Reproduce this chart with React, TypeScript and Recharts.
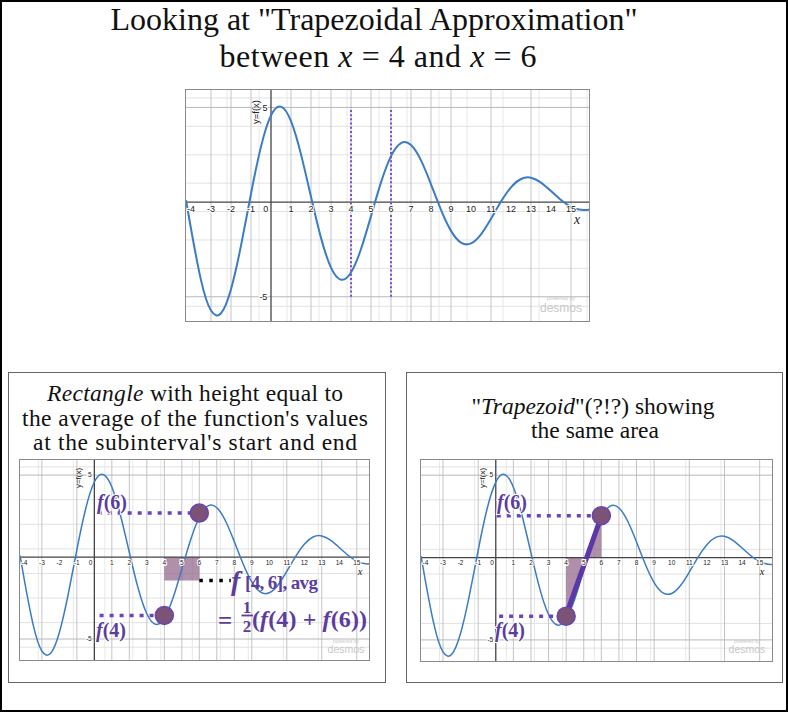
import {
  ComposedChart,
  Line,
  Area,
  Scatter,
  XAxis,
  YAxis,
  CartesianGrid,
  ReferenceLine,
  ReferenceArea
} from 'recharts';

// f(x)
const curveX = [-4.25, -4, -3.5, -3, -2.5, -2, -1.5, -1, -0.5, 0, 0.5, 1, 1.5, 2, 2.5, 3, 3.5, 4, 4.5, 5, 5.5, 6, 6.5, 7, 7.5, 8, 8.5, 9, 9.5, 10, 10.5, 11, 11.5, 12, 12.5, 13, 13.5, 14, 14.5, 15, 15.5, 15.9];
const curveY = [0.1, -1.41, -4.12, -5.73, -5.87, -4.6, -2.3, 0.44, 2.93, 4.58, 5.04, 4.27, 2.52, 0.28, -1.89, -3.46, -4.1, -3.72, -2.48, -0.74, 1.04, 2.43, 3.12, 3.01, 2.2, 0.94, -0.41, -1.52, -2.14, -2.18, -1.7, -0.88, 0.03, 0.78, 1.22, 1.29, 1.03, 0.58, 0.11, -0.25, -0.41, -0.4];
const curve = curveX.map((x, i) => ({ x, y: curveY[i] }));

const xTickValues = [-4, -3, -2, -1, 0, 1, 2, 3, 4, 5, 6, 7, 8, 9, 10, 11, 12, 13, 14, 15];
const yTickValues = [5, -5];

const intervalX = [4, 6];
const intervalLineY = [-5, 5];

const leftPointY = [-3.56, 2.68];
const rightPointY = [-3.56, 2.54];
const guideStartLeft = [0.3, 0.19];
const guideStartRight = [0.19, 0.06];
const rectAvg = -1.43;
const avgLeaderEnd = 7.8;
const trapY = [-3.5, 2.5];

const Y_DOMAIN: [number, number] = [-6.28, 5.92];
const MAIN_X: [number, number] = [-4.25, 15.9];
const SMALL_X: [number, number] = [-4.25, 15.7];

const range = (a: number, b: number, s: number) => {
  const out: number[] = [];
  for (let v = a; v <= b + 1e-9; v += s) out.push(Math.round(v * 10) / 10);
  return out;
};
const minorV = range(-4.2, 15.8, 0.2).filter((v) => Math.abs(v - Math.round(v)) > 0.01);
const majorV = range(-4, 15, 1).filter((v) => v !== 0);
const minorH = range(-6, 5.5, 0.5).filter((v) => v !== 0 && v !== 5 && v !== -5);
const majorH = [5, -5];

const PURPLE = '#5b3d9e';
const DOT_FILL = '#7b5377';
const FILL = '#8d5f86';
const BLUE = '#3b7cc2';

function Graph({
  width,
  height,
  xDomain,
  fs,
  lineW,
  children
}: {
  width: number;
  height: number;
  xDomain: [number, number];
  fs: number;
  lineW: number;
  children?: any;
}) {
  const xLabels = xTickValues.map((x) => ({ x, y: 0, label: String(x) }));
  const yLabels = yTickValues.map((y) => ({ x: 0, y, label: String(y) }));
  return (
    <ComposedChart width={width} height={height} margin={{ top: 0, right: 0, bottom: 0, left: 0 }}>
      <XAxis dataKey="x" type="number" domain={xDomain} allowDataOverflow hide />
      <YAxis dataKey="y" type="number" domain={Y_DOMAIN} allowDataOverflow hide />
      <CartesianGrid horizontal={false} verticalValues={minorV} stroke="#e8e8e8" />
      <CartesianGrid vertical={false} horizontalValues={minorH} stroke="#e2e2e2" />
      <CartesianGrid horizontal={false} verticalValues={majorV} stroke="#c4c4c4" />
      <CartesianGrid vertical={false} horizontalValues={majorH} stroke="#b8b8b8" />
      <ReferenceLine x={0} stroke="#444" strokeWidth={1.3} />
      <ReferenceLine y={0} stroke="#444" strokeWidth={1.3} />
      <Scatter
        data={xLabels}
        isAnimationActive={false}
        shape={(p: any) => {
          const zero = p.payload.x === 0;
          return (
            <text
              x={p.cx + (zero ? -fs * 0.3 : 0)}
              y={p.cy + fs * 1.15}
              textAnchor={zero ? 'end' : 'middle'}
              fontSize={fs}
              fontFamily="Liberation Sans, Arial, sans-serif"
              fill="#222"
              stroke="#fff"
              strokeWidth={2}
              paintOrder="stroke"
            >
              {p.payload.label}
            </text>
          );
        }}
      />
      <Scatter
        data={yLabels}
        isAnimationActive={false}
        shape={(p: any) => (
          <text
            x={p.cx - fs * 0.4}
            y={p.cy + fs * 0.35}
            textAnchor="end"
            fontSize={fs}
            fontFamily="Liberation Sans, Arial, sans-serif"
            fill="#222"
            stroke="#fff"
            strokeWidth={2}
            paintOrder="stroke"
          >
            {p.payload.label}
          </text>
        )}
      />
      <Line data={curve} dataKey="y" type="natural" stroke={BLUE} strokeWidth={lineW} dot={false} isAnimationActive={false} />
      {children}
    </ComposedChart>
  );
}

const dotShape = (p: any) => (
  <circle cx={p.cx} cy={p.cy} r={9} fill={DOT_FILL} stroke="#6a44b0" strokeWidth={1.5} />
);

export default function App() {
  const leftPts = intervalX.map((x, i) => ({ x, y: leftPointY[i] }));
  const rightPts = intervalX.map((x, i) => ({ x, y: rightPointY[i] }));
  const trap = intervalX.map((x, i) => ({ x, y: trapY[i] }));
  const serif = 'Liberation Serif, Times New Roman, serif';
  const sans = 'Liberation Sans, Arial, sans-serif';

  return (
    <div
      style={{
        position: 'fixed',
        left: 0,
        top: 0,
        width: 788,
        height: 712,
        boxSizing: 'border-box',
        border: '2px solid #000',
        background: '#fff',
        overflow: 'hidden'
      }}
    >
      <div style={{ position: 'absolute', left: 8 - 2, top: 372 - 2, width: 378, height: 311, border: '1.5px solid #666', boxSizing: 'border-box' }} />
      <div style={{ position: 'absolute', left: 406 - 2, top: 372 - 2, width: 377, height: 311, border: '1.5px solid #666', boxSizing: 'border-box' }} />

      <div style={{ position: 'absolute', left: 186 - 2, top: 90 - 2, outline: '1.5px solid #8a8a8a' }}>
        <Graph width={403} height={231} xDomain={MAIN_X} fs={9} lineW={2}>
          {intervalX.map((x) => (
            <ReferenceLine
              key={x}
              segment={[{ x, y: intervalLineY[0] }, { x, y: intervalLineY[1] }]}
              stroke="#7d4fd0"
              strokeWidth={2}
              strokeDasharray="2 2.2"
            />
          ))}
        </Graph>
      </div>

      <div style={{ position: 'absolute', left: 20 - 2, top: 460 - 2, outline: '1.5px solid #8a8a8a' }}>
        <Graph width={349} height={200} xDomain={SMALL_X} fs={6.5} lineW={1.5}>
          <ReferenceArea x1={intervalX[0]} x2={intervalX[1]} y1={rectAvg} y2={0} fill={FILL} fillOpacity={0.7} stroke="none" />
          <ReferenceLine
            segment={[{ x: intervalX[1], y: rectAvg }, { x: avgLeaderEnd, y: rectAvg }]}
            stroke="#000"
            strokeWidth={3.5}
            strokeDasharray="3.5 6.5"
          />
          {intervalX.map((x, i) => (
            <ReferenceLine
              key={x}
              segment={[{ x: guideStartLeft[i], y: leftPointY[i] }, { x, y: leftPointY[i] }]}
              stroke="#6a44b8"
              strokeWidth={3.5}
              strokeDasharray="4 6"
            />
          ))}
          <Scatter data={leftPts} isAnimationActive={false} shape={dotShape} />
        </Graph>
      </div>

      <div style={{ position: 'absolute', left: 421 - 2, top: 460 - 2, outline: '1.5px solid #8a8a8a' }}>
        <Graph width={351} height={201} xDomain={SMALL_X} fs={6.5} lineW={1.5}>
          <Area data={trap} dataKey="y" type="linear" baseValue={0} fill={FILL} fillOpacity={0.7} stroke="none" isAnimationActive={false} />
          {intervalX.map((x, i) => (
            <ReferenceLine
              key={x}
              segment={[{ x: guideStartRight[i], y: rightPointY[i] }, { x, y: rightPointY[i] }]}
              stroke="#6a44b8"
              strokeWidth={3.5}
              strokeDasharray="4 6"
            />
          ))}
          <Line data={trap} dataKey="y" type="linear" stroke="#5a38a8" strokeWidth={5} dot={false} isAnimationActive={false} />
          <Scatter data={rightPts} isAnimationActive={false} shape={dotShape} />
        </Graph>
      </div>

      <svg
        width={788}
        height={712}
        style={{ position: 'absolute', left: -2, top: -2, pointerEvents: 'none' }}
      >
        <g fontFamily={serif} fill="#111" textAnchor="middle">
          <text x={374} y={30} fontSize={32} textLength={527} lengthAdjust="spacing">Looking at "Trapezoidal Approximation"</text>
          <text x={378} y={67} fontSize={32} textLength={317} lengthAdjust="spacing">
            between <tspan fontStyle="italic">x</tspan> = 4 and <tspan fontStyle="italic">x</tspan> = 6
          </text>
          <text x={195} y={401} fontSize={23.5} textLength={296} lengthAdjust="spacing">
            <tspan fontStyle="italic">Rectangle</tspan> with height equal to
          </text>
          <text x={195} y={425.5} fontSize={23.5} textLength={346} lengthAdjust="spacing">the average of the function's values</text>
          <text x={195} y={450} fontSize={23.5} textLength={324} lengthAdjust="spacing">at the subinterval's start and end</text>
          <text x={593} y={414} fontSize={23.5}>
            "<tspan fontStyle="italic">Trapezoid</tspan>"(?!?) showing
          </text>
          <text x={595} y={438} fontSize={23.5}>the same area</text>
        </g>

        <g fontFamily={sans} fill="#222">
          <text transform="translate(259,112) rotate(-90)" textAnchor="middle" fontSize={9.5}>y=f(x)</text>
          <text transform="translate(81,478) rotate(-90)" textAnchor="middle" fontSize={8}>y=f(x)</text>
          <text transform="translate(485,478) rotate(-90)" textAnchor="middle" fontSize={8}>y=f(x)</text>
        </g>
        <g fontFamily={serif} fontStyle="italic" fill="#222" textAnchor="middle">
          <text x={577} y={224} fontSize={14}>x</text>
          <text x={360} y={575} fontSize={10.5}>x</text>
          <text x={762} y={575} fontSize={10.5}>x</text>
        </g>
        <g fontFamily={sans} fill="#c8c8c8" textAnchor="middle">
          <text x={561} y={300} fontSize={5.5}>powered by</text>
          <text x={561} y={312} fontSize={12}>desmos</text>
          <text x={346} y={643} fontSize={5}>powered by</text>
          <text x={346} y={653} fontSize={10.5}>desmos</text>
          <text x={747} y={643} fontSize={5}>powered by</text>
          <text x={747} y={653} fontSize={10.5}>desmos</text>
        </g>

        <g fontFamily={serif} fontWeight="bold" fill={PURPLE} stroke="#fff" strokeWidth={2} paintOrder="stroke">
          <text x={97} y={509} fontSize={20}>
            <tspan fontStyle="italic">f</tspan>(6)
          </text>
          <text x={96} y={637} fontSize={20}>
            <tspan fontStyle="italic">f</tspan>(4)
          </text>
          <text x={497} y={509} fontSize={20}>
            <tspan fontStyle="italic">f</tspan>(6)
          </text>
          <text x={495} y={637} fontSize={20}>
            <tspan fontStyle="italic">f</tspan>(4)
          </text>
        </g>

        <g fontFamily={serif} fontWeight="bold" fill={PURPLE}>
          <text x={231} y={590} fontSize={28} fontStyle="italic">f</text>
          <text x={245} y={589} fontSize={19} textLength={73} lengthAdjust="spacing">[4, 6], avg</text>
          <text x={218} y={629} fontSize={25}>=</text>
          <text x={247} y={613} fontSize={17} textAnchor="middle">1</text>
          <rect x={241.5} y={614.6} width={11.5} height={1.8} />
          <text x={247} y={632} fontSize={17} textAnchor="middle">2</text>
          <text x={252} y={627} fontSize={24} textLength={115} lengthAdjust="spacing">
            (<tspan fontStyle="italic">f</tspan>(4) + <tspan fontStyle="italic">f</tspan>(6))
          </text>
        </g>
      </svg>
    </div>
  );
}
